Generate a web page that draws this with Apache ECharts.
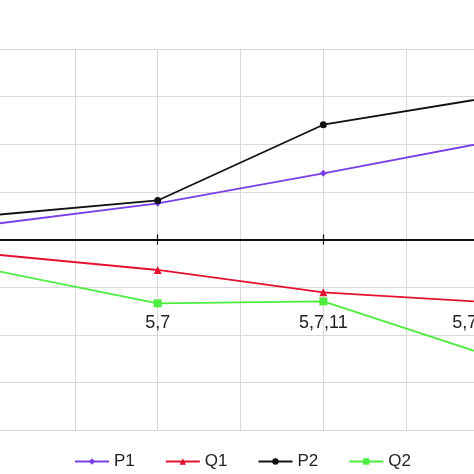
<!DOCTYPE html>
<html>
<head>
<meta charset="utf-8">
<script src="https://cdn.jsdelivr.net/npm/echarts@6/dist/echarts.min.js"></script>
<style>html,body{margin:0;padding:0;background:#fff}#c{width:474px;height:474px}</style>
</head>
<body>
<div id="c"></div>
<script>
// Category labels (positions 0..3 on the x axis)
var categories = ["5", "5,7", "5,7,11", "5,7,11,13"];
// Series values
var P1 = [0.32, 0.76, 1.39, 2.05];
var Q1 = [-0.31, -0.64, -1.11, -1.32];
var P2 = [0.51, 0.82, 2.41, 2.98];
var Q2 = [-0.64, -1.34, -1.30, -2.44];
// Y tick range
var yMin = -4, yMax = 4, yStep = 1;

function pts(arr) { return arr.map(function (v, i) { return [i, v]; }); }

var chart = echarts.init(document.getElementById('c'), null, {renderer: 'canvas'});
var font = '"Liberation Sans", Arial, sans-serif';
var grid = '#d9d9d9';
var gridBox = {left: -8, right: -15, top: 49, bottom: 44, containLabel: false, outerBoundsMode: 'none'};
chart.setOption({
  animation: false,
  backgroundColor: '#fff',
  grid: [Object.assign({}, gridBox), Object.assign({}, gridBox)],
  xAxis: [{
    gridIndex: 0, position: 'bottom',
    type: 'value', min: 0, max: categories.length - 1, interval: 1,
    axisLine: {show: true, onZero: true, lineStyle: {color: '#000', width: 1.5}},
    axisTick: {show: true, inside: false, length: 5, lineStyle: {color: '#000', width: 1.2}},
    axisLabel: {margin: -116, fontFamily: font, fontSize: 18, color: '#222',
      formatter: function (v) { return categories[Math.round(v)] || ''; }},
    splitLine: {show: true, lineStyle: {color: grid, width: 1}},
    minorTick: {show: false, splitNumber: 2},
    minorSplitLine: {show: true, lineStyle: {color: grid, width: 1}}
  }, {
    gridIndex: 1, position: 'top',
    type: 'value', min: 0, max: categories.length - 1, interval: 1,
    axisLine: {show: true, onZero: true, lineStyle: {color: '#000', width: 1.5}},
    axisTick: {show: true, inside: false, length: 5, lineStyle: {color: '#000', width: 1.2}},
    axisLabel: {show: false},
    splitLine: {show: false}
  }],
  yAxis: [{
    gridIndex: 0,
    type: 'value', min: yMin, max: yMax, interval: yStep,
    axisLine: {show: false}, axisTick: {show: false}, axisLabel: {show: false},
    splitLine: {show: true, lineStyle: {color: grid, width: 1}}
  }, {
    gridIndex: 1,
    type: 'value', min: yMin, max: yMax, interval: yStep,
    axisLine: {show: false}, axisTick: {show: false}, axisLabel: {show: false},
    splitLine: {show: false}
  }],
  legend: {
    left: 69, top: 448, itemWidth: 34, itemHeight: 8, itemGap: 30,
    textStyle: {fontFamily: font, fontSize: 17, color: '#222'},
    data: ['P1', 'Q1', 'P2', 'Q2']
  },
  series: [
    {name: 'P1', type: 'line', data: pts(P1), symbol: 'diamond', symbolSize: 7,
      color: '#7a3fe6', lineStyle: {width: 1.8, color: '#7a3fe6'}},
    {name: 'Q1', type: 'line', data: pts(Q1), symbol: 'triangle', symbolSize: 8,
      color: '#e3122f', lineStyle: {width: 1.8, color: '#e3122f'}},
    {name: 'P2', type: 'line', data: pts(P2), symbol: 'circle', symbolSize: 7,
      color: '#111', lineStyle: {width: 1.8, color: '#111'}},
    {name: 'Q2', type: 'line', data: pts(Q2), symbol: 'rect', symbolSize: 8,
      color: '#4ced3c', lineStyle: {width: 1.8, color: '#4ced3c'}}
  ]
});
</script>
</body>
</html>
